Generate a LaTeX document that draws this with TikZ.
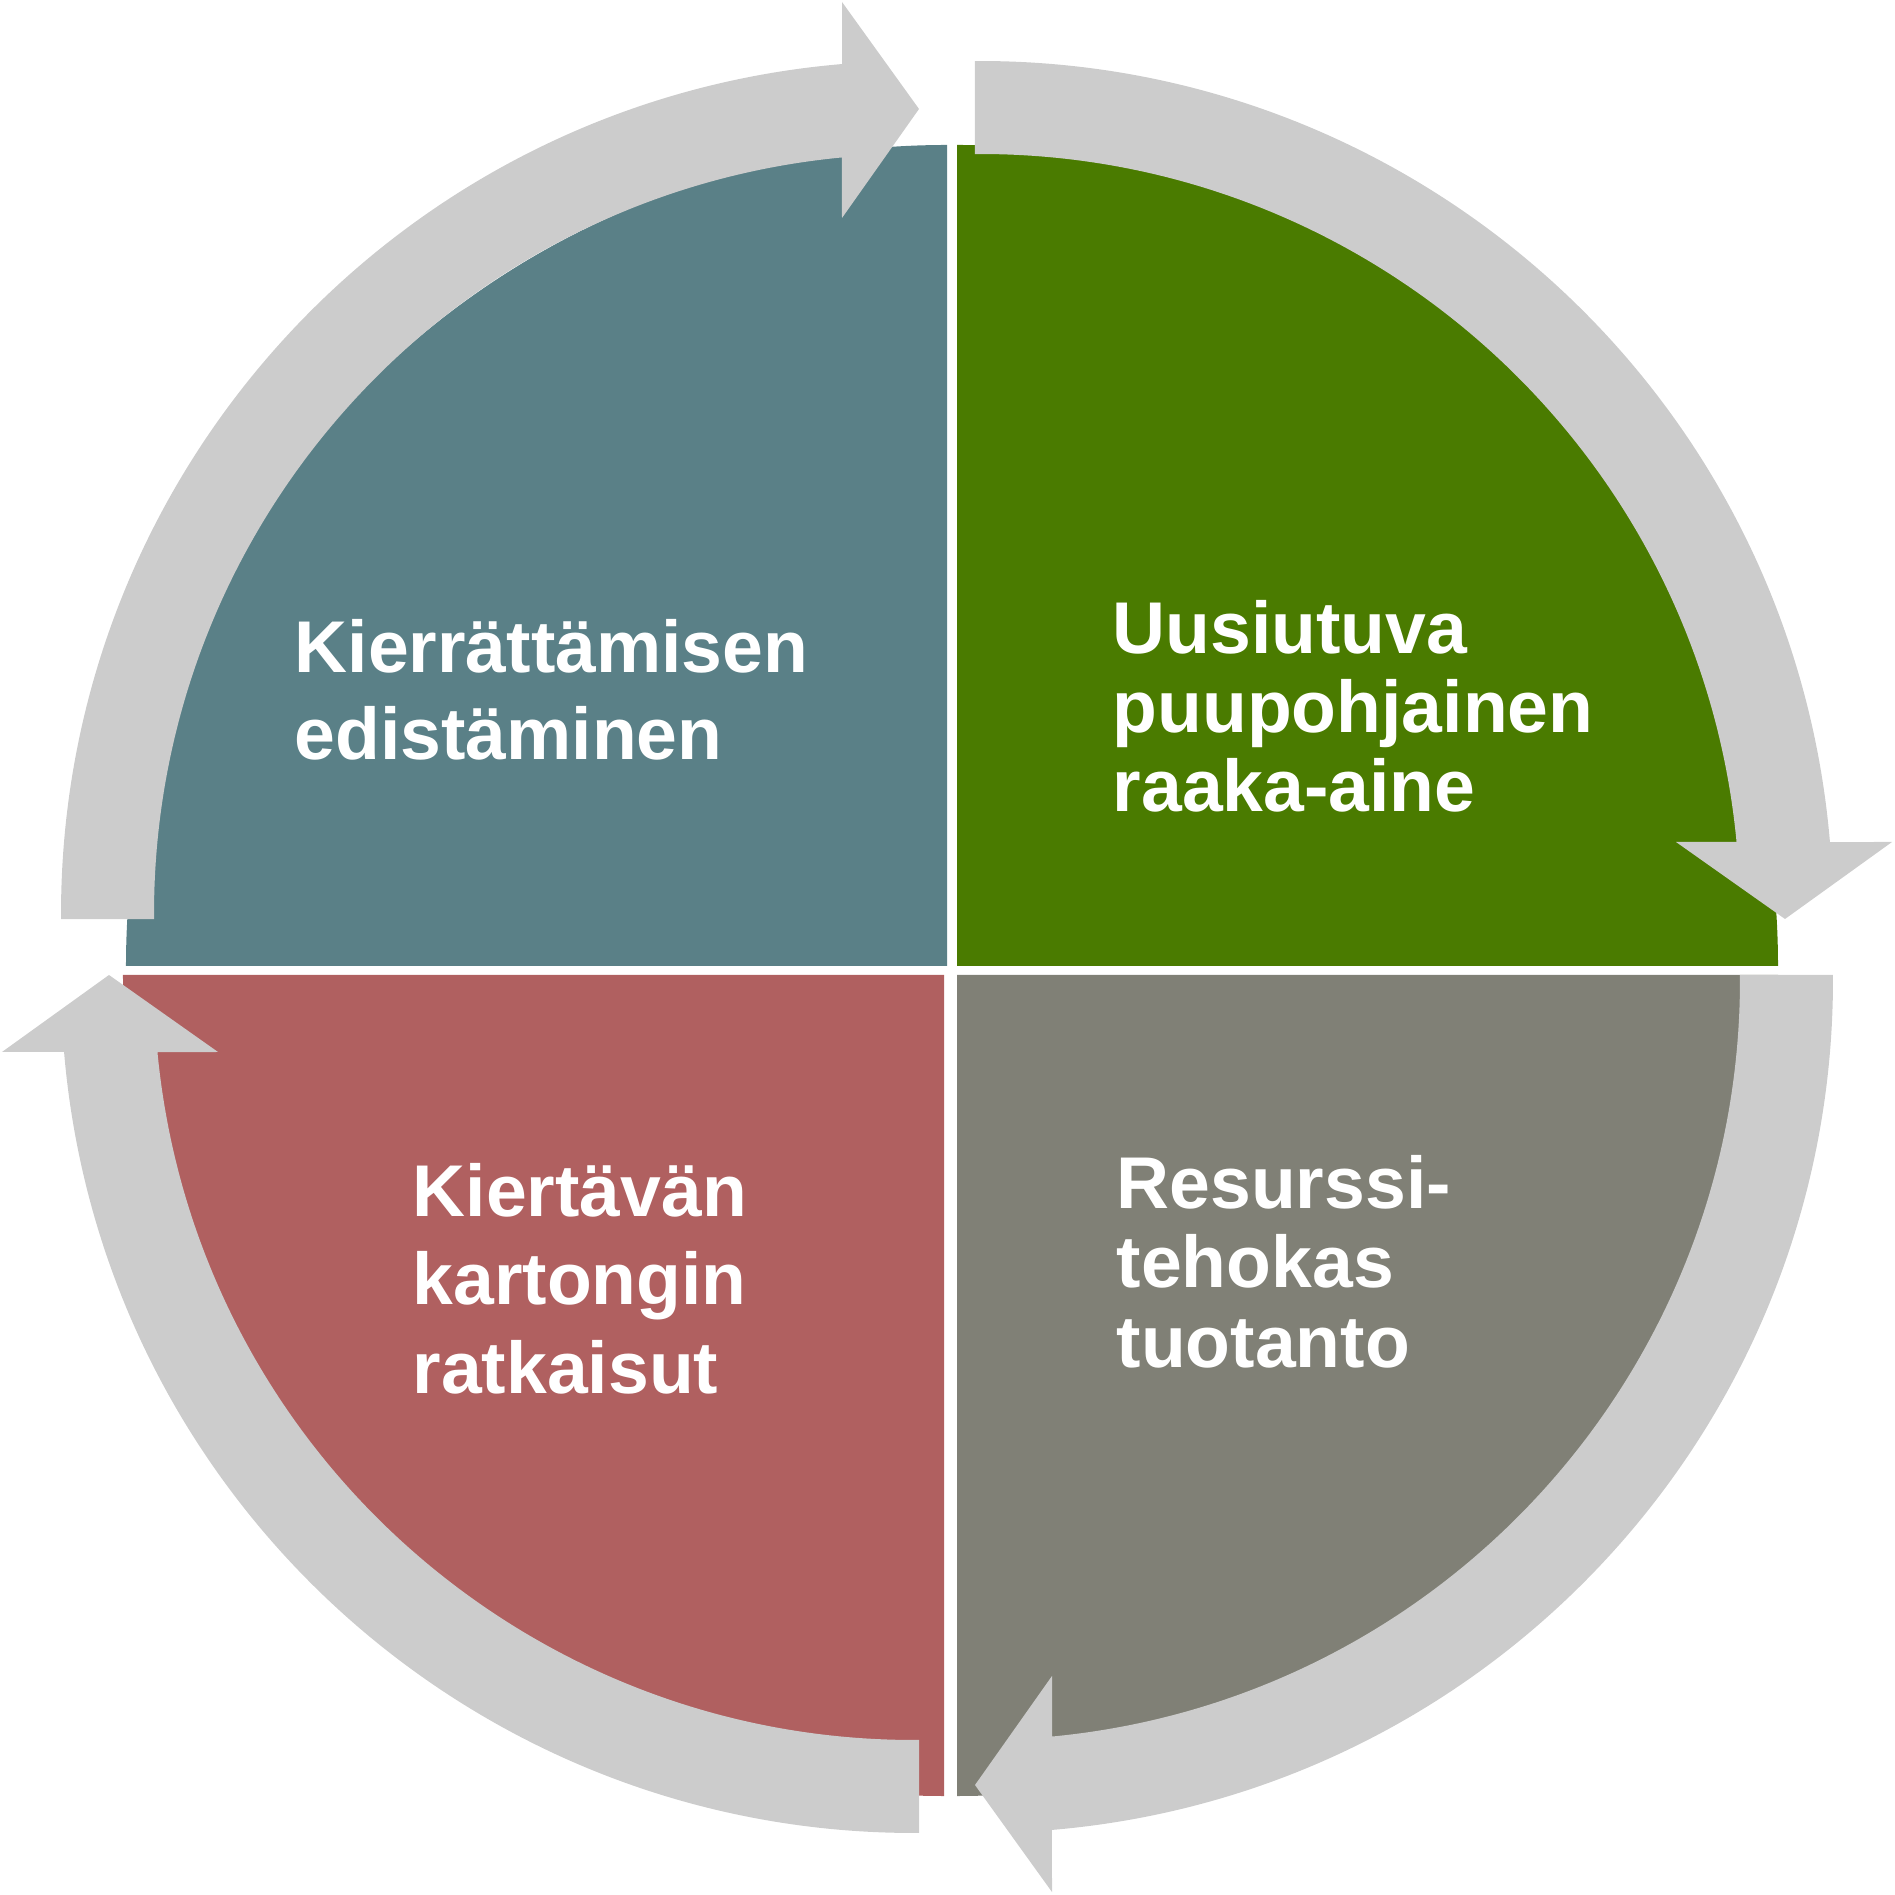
\documentclass[tikz,border=0pt]{standalone}
\usepackage{fontspec}
\setmainfont{Liberation Sans}
\usetikzlibrary{calc}

\definecolor{recycleblue}{HTML}{5A8087}
\definecolor{woodgreen}{HTML}{4A7B00}
\definecolor{cartonred}{HTML}{B06060}
\definecolor{prodgrey}{HTML}{808076}
\definecolor{arrowgrey}{HTML}{CCCCCC}

\begin{document}
\begin{tikzpicture}[x=0.01cm, y=0.01cm,
    qlabel/.style={text=white, font=\fontsize{20.85pt}{24pt}\selectfont\bfseries, inner sep=0pt, anchor=base west}]
    \useasboundingbox (-947,-948) rectangle (948,947);
    % the four quarters
    \fill[recycleblue] (0,-19) -- (-821,-19) arc[start angle=180, end angle=90, radius=821] -- cycle;
    \fill[woodgreen] (10,-19) -- (10,802) arc[start angle=90, end angle=0, radius=821] -- cycle;
    \fill[cartonred] (-3,-28) -- (-3,-849) arc[start angle=270, end angle=180, radius=821] -- cycle;
    \fill[prodgrey] (10,-28) -- (831,-28) arc[start angle=0, end angle=-90, radius=821] -- cycle;
    % one bent arrow, turned round four times
    \foreach \ang in {0,-90,-180,-270} {
        \begin{scope}[rotate=\ang]
            \coordinate (ac) at (-33,33);
            \fill[arrowgrey] ($(ac)+(180.34:853)$) arc[start angle=180.34, end angle=94.84, radius=853]
                -- (-105,945) -- (-28,838) -- (-105,729)
                -- ($(ac)+(95.45:760)$) arc[start angle=95.45, end angle=180.38, radius=760] -- cycle;
        \end{scope}
    }
    % labels
    \foreach \txt [count=\i] in {Kierrättämisen, edistäminen}
        \node[qlabel] (recycle\i) at (-653, 361-87*\i) {\txt};
    \foreach \txt [count=\i] in {Uusiutuva, puupohjainen, raaka-aine}
        \node[qlabel] (wood\i) at (165, 372-79*\i) {\txt};
    \foreach \txt [count=\i] in {Kiertävän, kartongin, ratkaisut}
        \node[qlabel] (carton\i) at (-535, -182-88*\i) {\txt};
    \foreach \txt [count=\i] in {Resurssi-, tehokas, tuotanto}
        \node[qlabel] (resource\i) at (169, -183-79*\i) {\txt};
\end{tikzpicture}
\end{document}
